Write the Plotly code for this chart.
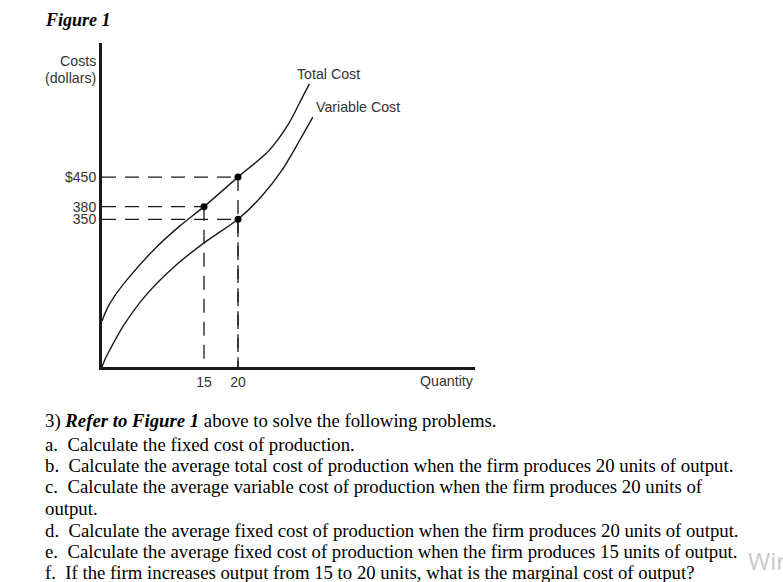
import plotly.graph_objects as go

W, H = 783, 582
L, R, T, B = 102, 475, 43, 367

# Data
tc_q = [0, 0.8, 1.8, 4.0, 8.0, 11.5, 15, 20, 24.5, 27.5, 29.5, 30.5]
tc_cost = [109, 140, 167, 213, 284, 335, 380, 450, 512, 578, 640, 671]
vc_q = [0, 0.5, 1.2, 3.2, 6.5, 10.5, 15, 20, 23.5, 26.5, 29, 31]
vc_cost = [0, 20, 42, 99, 171, 236, 294, 350, 405, 467, 535, 592]
point_q = [15, 20, 20]
point_cost = [380, 450, 350]
y_ticks = [350, 380, 450]
y_labels = ["350", "380", "$450"]
x_ticks = [15, 20]
x_labels = ["15", "20"]
question_lines = [
    "3) <b><i>Refer to Figure 1</i></b> above to solve the following problems.",
    "a.  Calculate the fixed cost of production.",
    "b.  Calculate the average total cost of production when the firm produces 20 units of output.",
    "c.  Calculate the average variable cost of production when the firm produces 20 units of",
    "output.",
    "d.  Calculate the average fixed cost of production when the firm produces 20 units of output.",
    "e.  Calculate the average fixed cost of production when the firm produces 15 units of output.",
    "f.  If the firm increases output from 15 to 20 units, what is the marginal cost of output?",
]
question_y = [421, 444, 465, 487, 508, 530, 551, 572]

fig = go.Figure()
INK = "#1a1a1a"
DASH = "14px,9px"
for q, c in zip(point_q, point_cost):
    fig.add_trace(go.Scatter(x=[0, q], y=[c, c], mode="lines", line=dict(color=INK, width=1.3, dash=DASH),
                             hoverinfo="skip", showlegend=False))
    fig.add_trace(go.Scatter(x=[q, q], y=[c, 0], mode="lines", line=dict(color=INK, width=1.3, dash=DASH),
                             hoverinfo="skip", showlegend=False))
fig.add_trace(go.Scatter(x=tc_q, y=tc_cost, mode="lines", name="Total Cost",
                         line=dict(color=INK, width=1.4, shape="spline", smoothing=0.7), showlegend=False))
fig.add_trace(go.Scatter(x=vc_q, y=vc_cost, mode="lines", name="Variable Cost",
                         line=dict(color=INK, width=1.4, shape="spline", smoothing=0.7), showlegend=False))
fig.add_trace(go.Scatter(x=point_q, y=point_cost, mode="markers", marker=dict(color="black", size=7), showlegend=False))


def px(x):
    return (x - L) / (R - L)


def py(y):
    return (B - y) / (B - T)


def note(text, x, y, anchor, size, color, family):
    fig.add_annotation(text=text, x=px(x), y=py(y), xref="paper", yref="paper", xanchor=anchor, yanchor="middle",
                       showarrow=False, align="left" if anchor == "left" else "right",
                       font=dict(size=size, color=color, family=family), borderpad=0)


SANS = "Liberation Sans"
SERIF = "Liberation Serif"
note("<b><i>Figure 1</i></b>", 44, 20, "left", 18, "black", SERIF)
note("Costs", 97, 61, "right", 14.2, "#333333", SANS)
note("(dollars)", 97, 78, "right", 14.2, "#333333", SANS)
note("Total Cost", 296, 74, "left", 14.2, "#333333", SANS)
note("Variable Cost", 315, 107, "left", 14.2, "#333333", SANS)
note("Quantity", 475, 381, "right", 14.2, "#333333", SANS)
for line, y in zip(question_lines, question_y):
    note(line, 44, y, "left", 18.75, "black", SERIF)
note("Wir", 747, 560, "left", 24, "#c8c8c8", "Open Sans")

fig.update_layout(
    width=W, height=H, margin=dict(l=L, r=W - R, t=T, b=H - B), paper_bgcolor="white", plot_bgcolor="white",
    xaxis=dict(range=[0, (R - L) / 6.8], tickmode="array", tickvals=x_ticks, ticktext=x_labels, showgrid=False,
               zeroline=False, showline=True, linecolor=INK, linewidth=3, ticks="",
               tickfont=dict(family=SANS, size=14, color="#333333")),
    yaxis=dict(range=[0, (B - T) / 0.422], tickmode="array", tickvals=y_ticks, ticktext=y_labels, showgrid=False,
               zeroline=False, showline=True, linecolor=INK, linewidth=3, ticks="",
               tickfont=dict(family=SANS, size=14, color="#333333")),
)
fig.write_html("out.html", config=dict(displayModeBar=False),
               post_script="document.body.style.margin='0';document.body.style.overflow='hidden';")
